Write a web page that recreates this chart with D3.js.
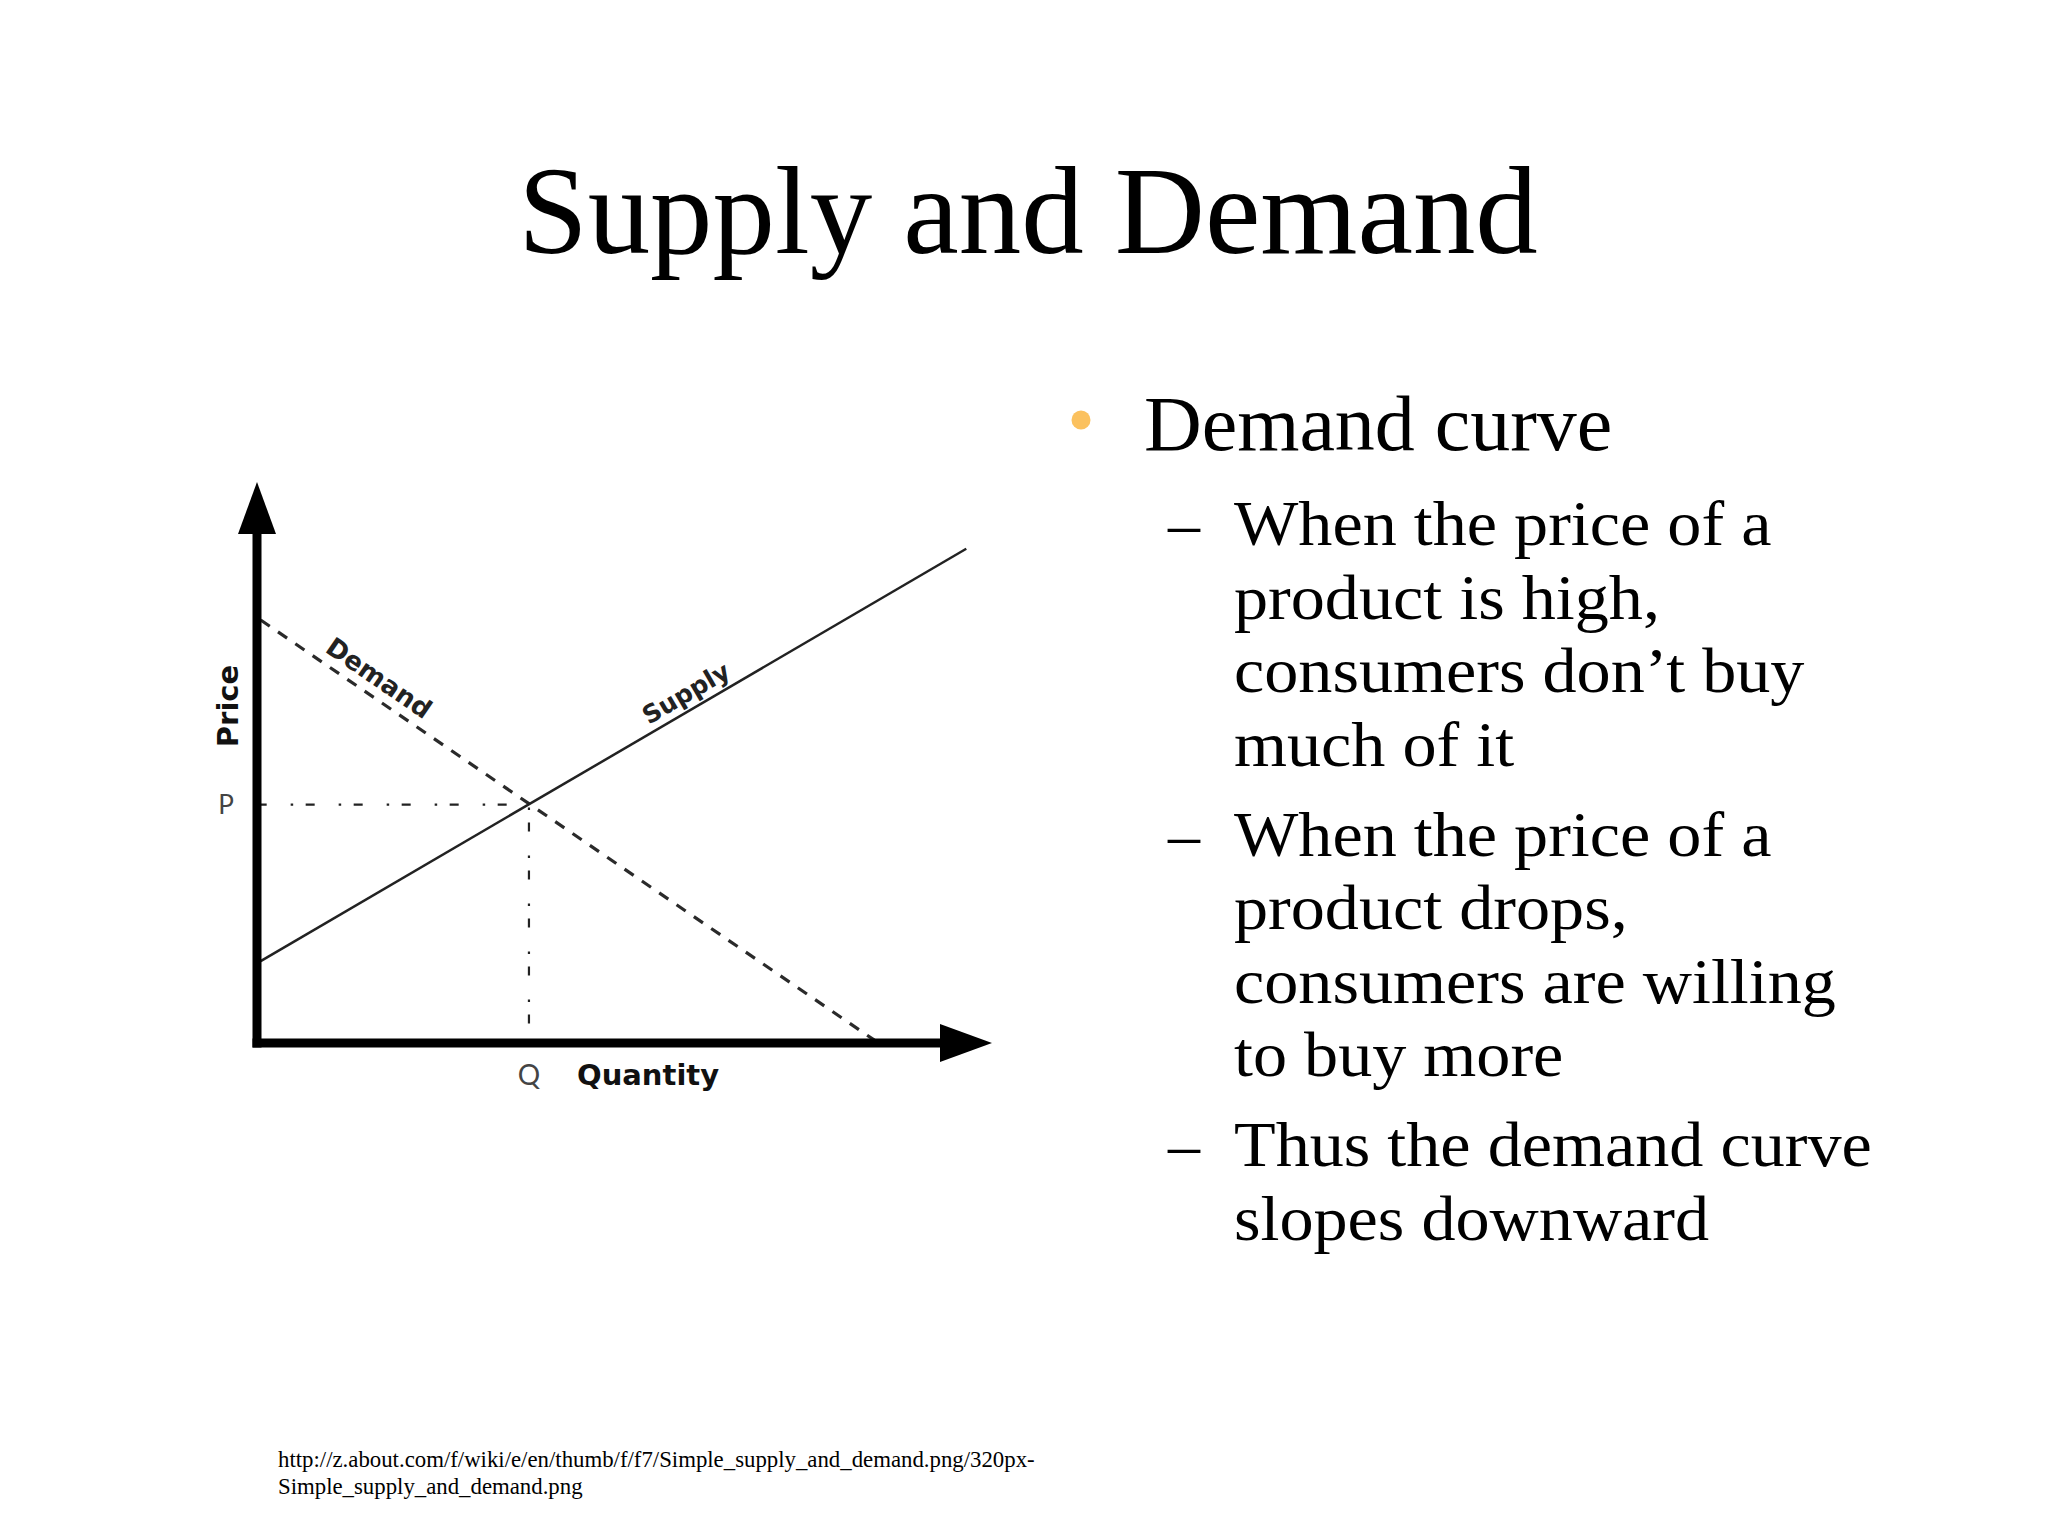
<!DOCTYPE html>
<html>
<head>
<meta charset="utf-8">
<script src="https://cdn.jsdelivr.net/npm/d3@7"></script>
<style>
  html, body { margin: 0; padding: 0; background: #fff; }
  svg { display: block; }
</style>
</head>
<body>
<svg id="slide"></svg>
<script>
// chart data (arbitrary units, quantity 0..100, price 0..100)
const supplyPoints = [[0.5, 14.6], [96.5, 88.1]];
const demandPoints = [[0.5, 75.4], [84, 0.5]];
const equilibrium = [37, 42.5];
const tickLabels = ["P", "Q"];
const axisLabels = ["Price", "Quantity"];
const curveLabels = ["Demand", "Supply"];

// slide text
const titleText = "Supply and Demand";
const bulletText = "Demand curve";
const subItems = [
  ["When the price of a", "product is high,", "consumers don\u2019t buy", "much of it"],
  ["When the price of a", "product drops,", "consumers are willing", "to buy more"],
  ["Thus the demand curve", "slopes downward"]
];
const footerLines = [
  "http://z.about.com/f/wiki/e/en/thumb/f/f7/Simple_supply_and_demand.png/320px-",
  "Simple_supply_and_demand.png"
];

const W = 2048, H = 1536;
const serif = "'Liberation Serif', 'Times New Roman', serif";
const sans = "'DejaVu Sans', Verdana, sans-serif";

const svg = d3.select("#slide")
  .attr("width", W)
  .attr("height", H)
  .attr("viewBox", `0 0 ${W} ${H}`);

svg.append("rect").attr("width", W).attr("height", H).attr("fill", "#fff");

// Title
svg.append("text")
  .attr("transform", "translate(1028,253) scale(1.007,1)")
  .attr("text-anchor", "middle")
  .attr("font-family", serif)
  .attr("font-size", 124)
  .attr("fill", "#000")
  .text(titleText);

// ---- chart ----
const x = d3.scaleLinear().domain([0, 100]).range([257, 992]);
const y = d3.scaleLinear().domain([0, 100]).range([1043, 482]);

const chart = svg.append("g").attr("class", "chart");
const line = d3.line().x(d => x(d[0])).y(d => y(d[1]));

// guide lines to the axes (dash-dot)
chart.append("path")
  .attr("d", line([[0.5, equilibrium[1]], equilibrium]))
  .attr("fill", "none")
  .attr("stroke", "#222")
  .attr("stroke-width", 2.2)
  .attr("stroke-dasharray", "9,24,2.5,12.5")
  .attr("stroke-dashoffset", 3);
chart.append("path")
  .attr("d", line([equilibrium, [equilibrium[0], 0.5]]))
  .attr("fill", "none")
  .attr("stroke", "#222")
  .attr("stroke-width", 2.2)
  .attr("stroke-dasharray", "9,24,2.5,12.5")
  .attr("stroke-dashoffset", 30);

// demand (dashed) and supply (solid)
chart.append("path")
  .attr("d", line(demandPoints))
  .attr("fill", "none")
  .attr("stroke", "#2a2a2a")
  .attr("stroke-width", 3.2)
  .attr("stroke-dasharray", "11,10");

chart.append("path")
  .attr("d", line(supplyPoints))
  .attr("fill", "none")
  .attr("stroke", "#222")
  .attr("stroke-width", 2.5);

// axes with arrow heads
const axisW = 9, headLen = 52, headHalf = 19;
const x0 = x(0), y0 = y(0), xTip = x(100), yTip = y(100);

chart.append("line")
  .attr("x1", x0).attr("x2", x0)
  .attr("y1", y0 + axisW / 2).attr("y2", yTip + headLen - 2)
  .attr("stroke", "#000").attr("stroke-width", axisW);
chart.append("line")
  .attr("x1", x0 - axisW / 2).attr("x2", xTip - headLen + 2)
  .attr("y1", y0).attr("y2", y0)
  .attr("stroke", "#000").attr("stroke-width", axisW);

chart.append("path")
  .attr("d", `M${x0},${yTip} L${x0 + headHalf},${yTip + headLen} L${x0 - headHalf},${yTip + headLen} Z`)
  .attr("fill", "#000");
chart.append("path")
  .attr("d", `M${xTip},${y0} L${xTip - headLen},${y0 - headHalf} L${xTip - headLen},${y0 + headHalf} Z`)
  .attr("fill", "#000");

// P and Q ticks
chart.append("text")
  .attr("x", x0 - 31).attr("y", y(equilibrium[1]))
  .attr("dy", "0.36em")
  .attr("text-anchor", "middle")
  .attr("font-family", "Lato, " + sans)
  .attr("font-size", 26)
  .attr("fill", "#444")
  .text(tickLabels[0]);
chart.append("text")
  .attr("x", x(equilibrium[0])).attr("y", y0 + 42)
  .attr("text-anchor", "middle")
  .attr("font-family", "Lato, " + sans)
  .attr("font-size", 28)
  .attr("fill", "#444")
  .text(tickLabels[1]);

// axis titles
chart.append("text")
  .attr("transform", `translate(${x0 - 19},706) rotate(-90)`)
  .attr("text-anchor", "middle")
  .attr("font-family", sans)
  .attr("font-weight", "bold")
  .attr("font-size", 29)
  .attr("fill", "#111")
  .text(axisLabels[0]);
chart.append("text")
  .attr("x", 577).attr("y", y0 + 42)
  .attr("font-family", sans)
  .attr("font-weight", "bold")
  .attr("font-size", 29)
  .attr("fill", "#111")
  .text(axisLabels[1]);

// curve labels along the lines
function angleOf(pts) {
  const dx = x(pts[1][0]) - x(pts[0][0]);
  const dy = y(pts[1][1]) - y(pts[0][1]);
  return Math.atan2(dy, dx) * 180 / Math.PI;
}
chart.append("text")
  .attr("transform", `translate(379,678) rotate(${angleOf(demandPoints)})`)
  .attr("text-anchor", "middle")
  .attr("dy", "0.35em")
  .attr("font-family", sans)
  .attr("font-weight", "bold")
  .attr("font-size", 26)
  .attr("fill", "#222")
  .text(curveLabels[0]);
chart.append("text")
  .attr("transform", `translate(686,693) rotate(${angleOf(supplyPoints)})`)
  .attr("text-anchor", "middle")
  .attr("dy", "0.35em")
  .attr("font-family", sans)
  .attr("font-weight", "bold")
  .attr("font-size", 25)
  .attr("fill", "#222")
  .text(curveLabels[1]);

// ---- bullet text ----
const body = svg.append("g").attr("class", "body");
body.append("circle")
  .attr("cx", 1081).attr("cy", 420).attr("r", 9.5)
  .attr("fill", "#FBC15E");
body.append("text")
  .attr("transform", "translate(1144,450) scale(1.025,1)")
  .attr("font-family", serif)
  .attr("font-size", 78)
  .attr("fill", "#000")
  .text(bulletText);

const itemTop = [545, 855.5, 1166];
const lineStep = 73.5;
subItems.forEach((lines, i) => {
  body.append("text")
    .attr("x", 1168).attr("y", itemTop[i])
    .attr("font-family", serif)
    .attr("font-size", 64)
    .attr("fill", "#000")
    .text("\u2013");
  body.append("g").selectAll("text")
    .data(lines)
    .join("text")
    .attr("transform", (d, j) => `translate(1234,${itemTop[i] + j * lineStep}) scale(1.065,1)`)
    .attr("font-family", serif)
    .attr("font-size", 64)
    .attr("fill", "#000")
    .text(d => d);
});

// footer source
svg.append("g").selectAll("text")
  .data(footerLines)
  .join("text")
  .attr("x", 278)
  .attr("y", (d, i) => 1467 + i * 27)
  .attr("font-family", serif)
  .attr("font-size", 22.8)
  .attr("fill", "#000")
  .text(d => d);
</script>
</body>
</html>
